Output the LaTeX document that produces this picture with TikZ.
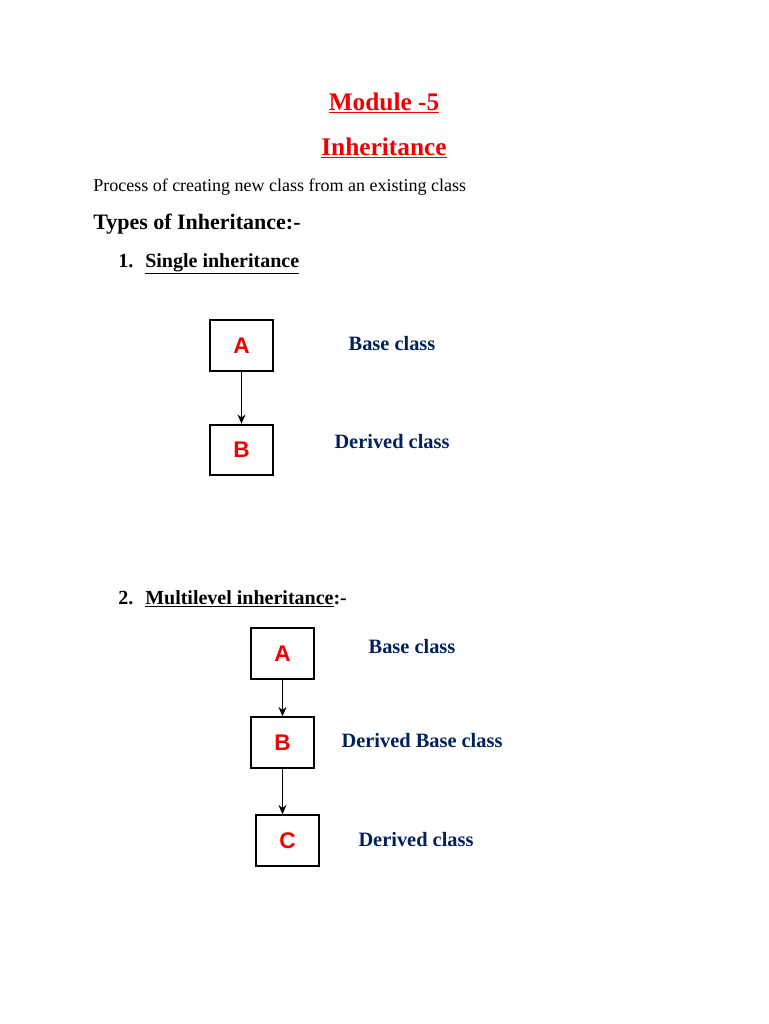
\documentclass[tikz,border=0pt]{standalone}
\usepackage{fontspec}
\setmainfont{Liberation Serif}
\newfontfamily\lettfont{Liberation Sans}
\usetikzlibrary{arrows.meta}
\definecolor{navy}{RGB}{0,32,96}
\definecolor{redt}{RGB}{240,0,0}
\begin{document}
\begin{tikzpicture}[x=0.75pt,y=-0.75pt,
  cls/.style={draw,line width=1.3pt,minimum width=47pt,minimum height=38pt,inner sep=0pt,text=redt,font=\lettfont\bfseries\fontsize{17}{19}\selectfont},
  lbl/.style={text=navy,font=\bfseries\fontsize{15.3}{17}\selectfont},
  txt/.style={anchor=west,inner sep=0pt,font=\fontsize{13.5}{15}\selectfont},
  arr/.style={-{Stealth[length=7pt,width=6pt]},line width=1.2pt}]
\useasboundingbox (0,0) rectangle (768,1024);
\node[text=redt,font=\bfseries\fontsize{19}{22}\selectfont] (m) at (384,103) {\underline{Module -5}};
\node[text=redt,font=\bfseries\fontsize{19}{22}\selectfont] (i) at (384,148) {\underline{Inheritance}};
\node[txt] (p) at (93,187) {Process of creating new class from an existing class};
\node[txt,font=\bfseries\fontsize{16.5}{19}\selectfont] (t) at (93,224) {Types of Inheritance:-};
\node[txt,font=\bfseries\fontsize{15}{17}\selectfont] (s1) at (118,264) {1.\hspace{0.6em}\underline{Single inheritance}};
\node[cls] (a1) at (241.5,345.5) {A};
\node[cls] (b1) at (241.5,450) {B};
\draw[arr] (a1) -- (b1);
\node[lbl] (l1) at (392,344) {Base class};
\node[lbl] (l2) at (392,442) {Derived class};
\node[txt,font=\bfseries\fontsize{15}{17}\selectfont] (s2) at (118,599) {2.\hspace{0.6em}\underline{Multilevel inheritance}:-};
\node[cls] (a2) at (282.5,653.5) {A};
\node[cls] (b2) at (282.5,742.5) {B};
\node[cls] (c2) at (287.5,840.5) {C};
\draw[arr] (a2.south) -- (a2.south|-b2.north);
\draw[arr] (b2.south) -- (b2.south|-c2.north);
\node[lbl] (l3) at (412,647) {Base class};
\node[lbl] (l4) at (422,741) {Derived Base class};
\node[lbl] (l5) at (416,840) {Derived class};
\end{tikzpicture}
\end{document}
